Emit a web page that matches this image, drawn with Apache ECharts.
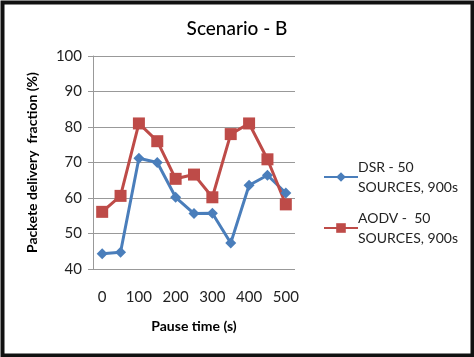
<!DOCTYPE html>
<html><head><meta charset="utf-8">
<script src="https://cdn.jsdelivr.net/npm/echarts@6/dist/echarts.min.js"></script>
<style>html,body{margin:0;padding:0;background:#fff;}#c{width:474px;height:357px;}</style>
</head><body><div id="c"></div>
<script>
const categories = ['0','50','100','150','200','250','300','350','400','450','500'];
const dsr = [44.3, 44.7, 71.2, 70.0, 60.2, 55.6, 55.7, 47.3, 63.6, 66.4, 61.4];
const aodv = [56.1, 60.6, 81.0, 76.0, 65.4, 66.6, 60.2, 78.0, 81.0, 70.9, 58.2];
const seriesNames = ['DSR - 50\nSOURCES, 900s', 'AODV -  50\nSOURCES, 900s'];
const font = 'Lato, Open Sans, sans-serif';
const chart = echarts.init(document.getElementById('c'));
chart.setOption({
  animation: false,
  backgroundColor: '#fff',
  graphic: [{type:'rect', left:0, top:0, shape:{x:2,y:2,width:470,height:353}, style:{fill:'none', stroke:'#111', lineWidth:4}, z:100}],
  title: {text:'Scenario - B', left:'center', top:14, textStyle:{fontFamily:font, fontSize:19, fontWeight:500, color:'#000'}},
  grid: {left:93, right:179, top:56, bottom:88},
  legend: {orient:'vertical', left:318, top:152, itemWidth:34, itemHeight:12, itemGap:11,
    textStyle:{fontFamily:font, fontSize:14, color:'#222', lineHeight:20, padding:[0,0,0,-5]},
    data: seriesNames},
  xAxis: {type:'category', data:categories, boundaryGap:true,
    name:'Pause time (s)', nameLocation:'middle', nameGap:50,
    nameTextStyle:{fontFamily:font, fontSize:14, fontWeight:'bold', color:'#000'},
    axisLine:{show:false}, axisTick:{show:false},
    axisLabel:{interval:1, margin:21, fontFamily:font, fontSize:15, color:'#222'}},
  yAxis: {type:'value', min:40, max:100, interval:10,
    name:'Packete delivery  fraction (%)', nameLocation:'middle', nameGap:54,
    nameTextStyle:{fontFamily:font, fontSize:14, fontWeight:'bold', color:'#000'},
    axisLine:{show:true, lineStyle:{color:'#999'}}, axisTick:{show:true, length:5, lineStyle:{color:'#999'}},
    axisLabel:{margin:11, fontFamily:font, fontSize:15, color:'#222'},
    splitLine:{lineStyle:{color:'#999'}}},
  series: [
    {name:seriesNames[0], type:'line', data:dsr, symbol:'diamond', symbolSize:11,
     itemStyle:{color:'#4a7ebb'}, lineStyle:{width:3, color:'#4a7ebb'}},
    {name:seriesNames[1], type:'line', data:aodv, symbol:'rect', symbolSize:12,
     itemStyle:{color:'#be4b48'}, lineStyle:{width:3, color:'#be4b48'}}
  ]
});
</script></body></html>
